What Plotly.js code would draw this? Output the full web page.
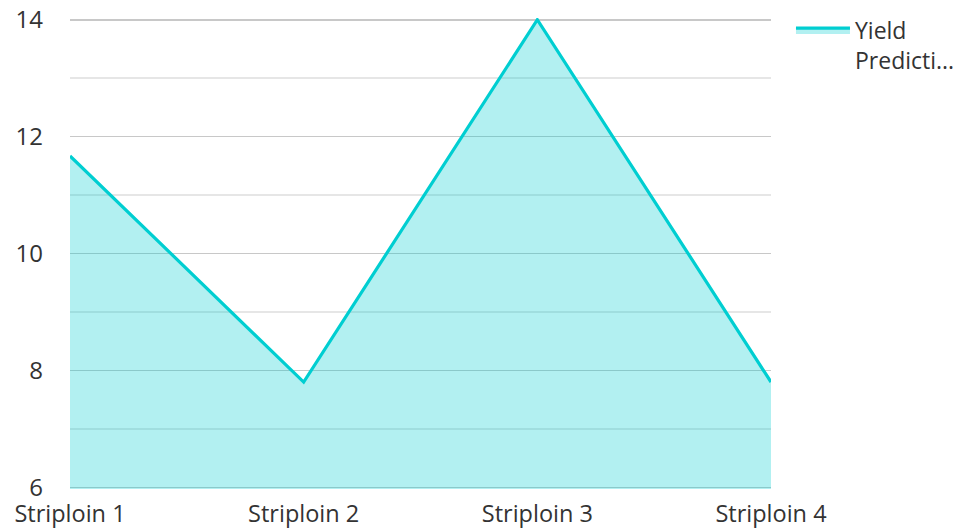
<!DOCTYPE html>
<html>
<head>
<meta charset="utf-8">
<script src="https://cdn.plot.ly/plotly-3.0.1.min.js"></script>
<style>html,body{margin:0;padding:0;background:#fff;}#chart{width:963px;height:529px;}</style>
</head>
<body>
<div id="chart"></div>
<script>
const categories = ["Striploin 1", "Striploin 2", "Striploin 3", "Striploin 4"];
const yieldValues = [11.67, 7.8, 14.0, 7.8];
const seriesName = "Yield<br>Predicti...";
const yTicks = [6, 8, 10, 12, 14];

const trace = {
  type: "scatter",
  mode: "lines",
  x: categories,
  y: yieldValues,
  name: seriesName,
  fill: "tozeroy",
  fillcolor: "rgba(0,206,209,0.3)",
  line: {color: "#00CED1", width: 3.2},
  hoverinfo: "x+y"
};

const layout = {
  width: 963, height: 529,
  margin: {l: 70, r: 192, t: 18.25, b: 40.25, autoexpand: false},
  paper_bgcolor: "#fff",
  plot_bgcolor: "#fff",
  font: {family: "Open Sans", size: 24, color: "#333"},
  showlegend: true,
  xaxis: {
    type: "category",
    range: [0, 3],
    showgrid: false,
    zeroline: false,
    showline: false,
    ticks: "",
    ticklabelstandoff: 8,
    tickfont: {size: 23.5, color: "#333"}
  },
  yaxis: {
    range: [5.97, 14.03],
    tickvals: yTicks,
    showgrid: true,
    gridcolor: "#c8c8c8",
    gridwidth: 1.5,
    zeroline: false,
    showline: false,
    ticks: "",
    ticklabelstandoff: 26,
    tickfont: {size: 24, color: "#333"},
    minor: {dtick: 1, showgrid: true, gridcolor: "#e6e6e6", gridwidth: 1.5}
  },
  legend: {
    x: 1.0285, xanchor: "left",
    y: 1.02, yanchor: "top",
    valign: "top",
    itemwidth: 54,
    font: {size: 23, color: "#333"},
    bgcolor: "rgba(0,0,0,0)"
  }
};

Plotly.newPlot("chart", [trace], layout, {displayModeBar: false, staticPlot: true});
</script>
</body>
</html>
